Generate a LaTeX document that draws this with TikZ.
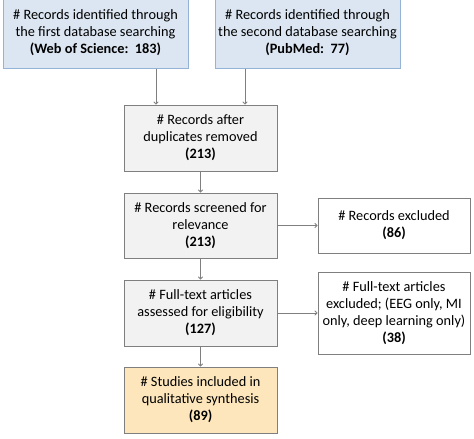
\documentclass[tikz,border=0pt]{standalone}
\usepackage{fontspec}
\setmainfont{Carlito}
\usepackage{xcolor}
\usepackage{tikz}
\usetikzlibrary{arrows.meta}

\definecolor{dbblue}{HTML}{DCE6F2}
\definecolor{dbedge}{HTML}{95B3D7}
\definecolor{stepgray}{HTML}{F2F2F2}
\definecolor{edgegray}{HTML}{7F7F7F}
\definecolor{incfill}{HTML}{FDE6BB}

\tikzset{
  box/.style={draw=edgegray, line width=1pt, align=center, inner sep=2pt,
    font=\fontsize{14.3}{17}\selectfont},
  dbbox/.style={box, draw=dbedge, fill=dbblue, minimum width=185pt, minimum height=70pt},
  flowbox/.style={box, fill=stepgray, minimum width=153pt, minimum height=66pt},
  exbox/.style={box, fill=white, minimum width=152pt},
  incbox/.style={box, fill=incfill, minimum width=153pt, minimum height=66pt},
  arr/.style={draw=edgegray, line width=0.8pt, -{To[length=3pt,width=5pt]}}
}

\begin{document}
\begin{tikzpicture}[x=1pt, y=-1pt]
            \useasboundingbox (0,0) rectangle (474,439);

            \node[dbbox] at (95.5,33) (wos) {\# Records identified through\\the first database searching\\\textbf{(Web of Science:\ \ 183)}};
            \node[dbbox] at (307.5,33) (pubmed) {\# Records identified through\\the second database searching\\\textbf{(PubMed:\ \ 77)}};

            \node[flowbox] at (200.5,138) (dedup) {\# Records after\\duplicates removed\\\textbf{(213)}};
            \node[flowbox, minimum height=65pt] at (200.5,225.5) (screen) {\# Records screened for\\relevance\\\textbf{(213)}};
            \node[flowbox] at (200.5,313) (fulltext) {\# Full-text articles\\assessed for eligibility\\\textbf{(127)}};
            \node[incbox] at (200.5,400) (included) {\# Studies included in\\qualitative synthesis\\\textbf{(89)}};

            \node[exbox, minimum height=55pt] at (394,225.5) (excl) {\# Records excluded\\\textbf{(86)}};
            \node[exbox, minimum height=82pt] at (394,313) (ftexcl) {\# Full-text articles\\excluded; (EEG only, MI\\only, deep learning only)\\\textbf{(38)}};

            \coordinate (inwos) at ([xshift=-44.5pt]dedup.north);
            \coordinate (inpub) at ([xshift=44.5pt]dedup.north);

            \draw[arr] (wos.south -| inwos) -- (inwos);
            \draw[arr] (pubmed.south -| inpub) -- (inpub);
            \draw[arr] (dedup) -- (screen);
            \draw[arr] (screen) -- (fulltext);
            \draw[arr] (fulltext) -- (included);
            \draw[arr] (screen) -- (excl);
            \draw[arr] (fulltext) -- (ftexcl);
        \end{tikzpicture}
\end{document}
